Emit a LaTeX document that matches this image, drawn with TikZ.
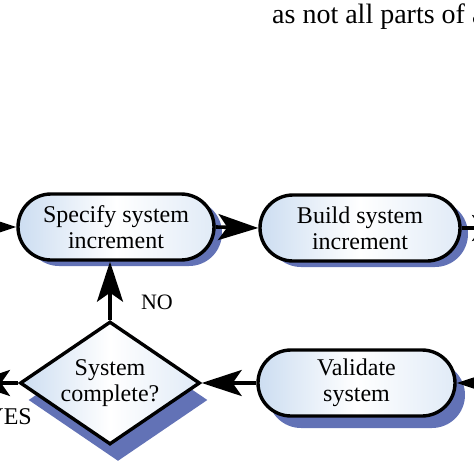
\documentclass[tikz,border=0pt]{standalone}
\usepackage{fontspec}
\setmainfont{Liberation Serif}
\usetikzlibrary{shapes.geometric,shadows,arrows.meta}
\definecolor{shadowblue}{HTML}{6272B6}
\definecolor{boxblue}{HTML}{CCDDF1}
\tikzset{
  flowbox/.style={rectangle, rounded corners=33pt, minimum height=66pt, inner sep=0pt,
    draw=black, line width=3.4pt, left color=boxblue, right color=boxblue!60, middle color=white,
    align=center, font=\fontsize{24}{26}\selectfont},
  decision/.style={diamond, minimum width=180pt, minimum height=123pt, inner sep=0pt, shape aspect=1.46,
    draw=black, line width=3.4pt, left color=boxblue, right color=boxblue!60, middle color=white,
    align=center, font=\fontsize{24}{26}\selectfont},
  flowarrow/.style={line width=3.6pt, -{Stealth[length=40pt,width=26pt,inset=9pt]}},
  lbl/.style={font=\fontsize{22}{24}\selectfont, inner sep=0pt}
}
\begin{document}
\begin{tikzpicture}[x=1pt,y=-1pt]
\useasboundingbox (0,0) rectangle (474,474);
% top text
\node[anchor=base west, inner sep=0pt, font=\fontsize{28}{30}\selectfont] (toptext) at (272,23) {as not all parts of a};
% boxes
\node[flowbox, minimum width=196pt, copy shadow={shadow xshift=8pt, shadow yshift=-6pt, fill=shadowblue, draw=none}] (spec) at (116,227) {Specify system\\increment};
\node[flowbox, minimum width=200pt, copy shadow={shadow xshift=8pt, shadow yshift=-6pt, fill=shadowblue, draw=none}] (build) at (360,228) {Build system\\increment};
\node[flowbox, minimum width=197pt, copy shadow={shadow xshift=10pt, shadow yshift=-12pt, fill=shadowblue, draw=none}] (valid) at (356.5,383) {Validate\\system};
\node[decision, copy shadow={shadow xshift=8pt, shadow yshift=-17pt, fill=shadowblue, draw=none}] (dec) at (110,383) {System\\complete?};
% off-page coordinates
\coordinate (inL) at (-40,227);
\coordinate (outR) at (512,228);
\coordinate (inR) at (520,383);
\coordinate (outL) at (-30,383);
% arrows
\draw[flowarrow] (inL) -- (spec.west);
\draw[flowarrow] (spec.east) -- (build.west);
\draw[flowarrow] (build.east) -- (outR);
\draw[flowarrow] (inR) -- (valid.east);
\draw[flowarrow] (valid.west) -- (dec.east);
\draw[flowarrow] (dec.north) -- (dec.north |- spec.south);
\draw[flowarrow] (dec.west) -- (outL);
% labels
\node[lbl] (no) at (157,302) {NO};
\node[lbl, anchor=east, font=\fontsize{24}{26}\selectfont] (yes) at (32,417) {YES};
\end{tikzpicture}
\end{document}
